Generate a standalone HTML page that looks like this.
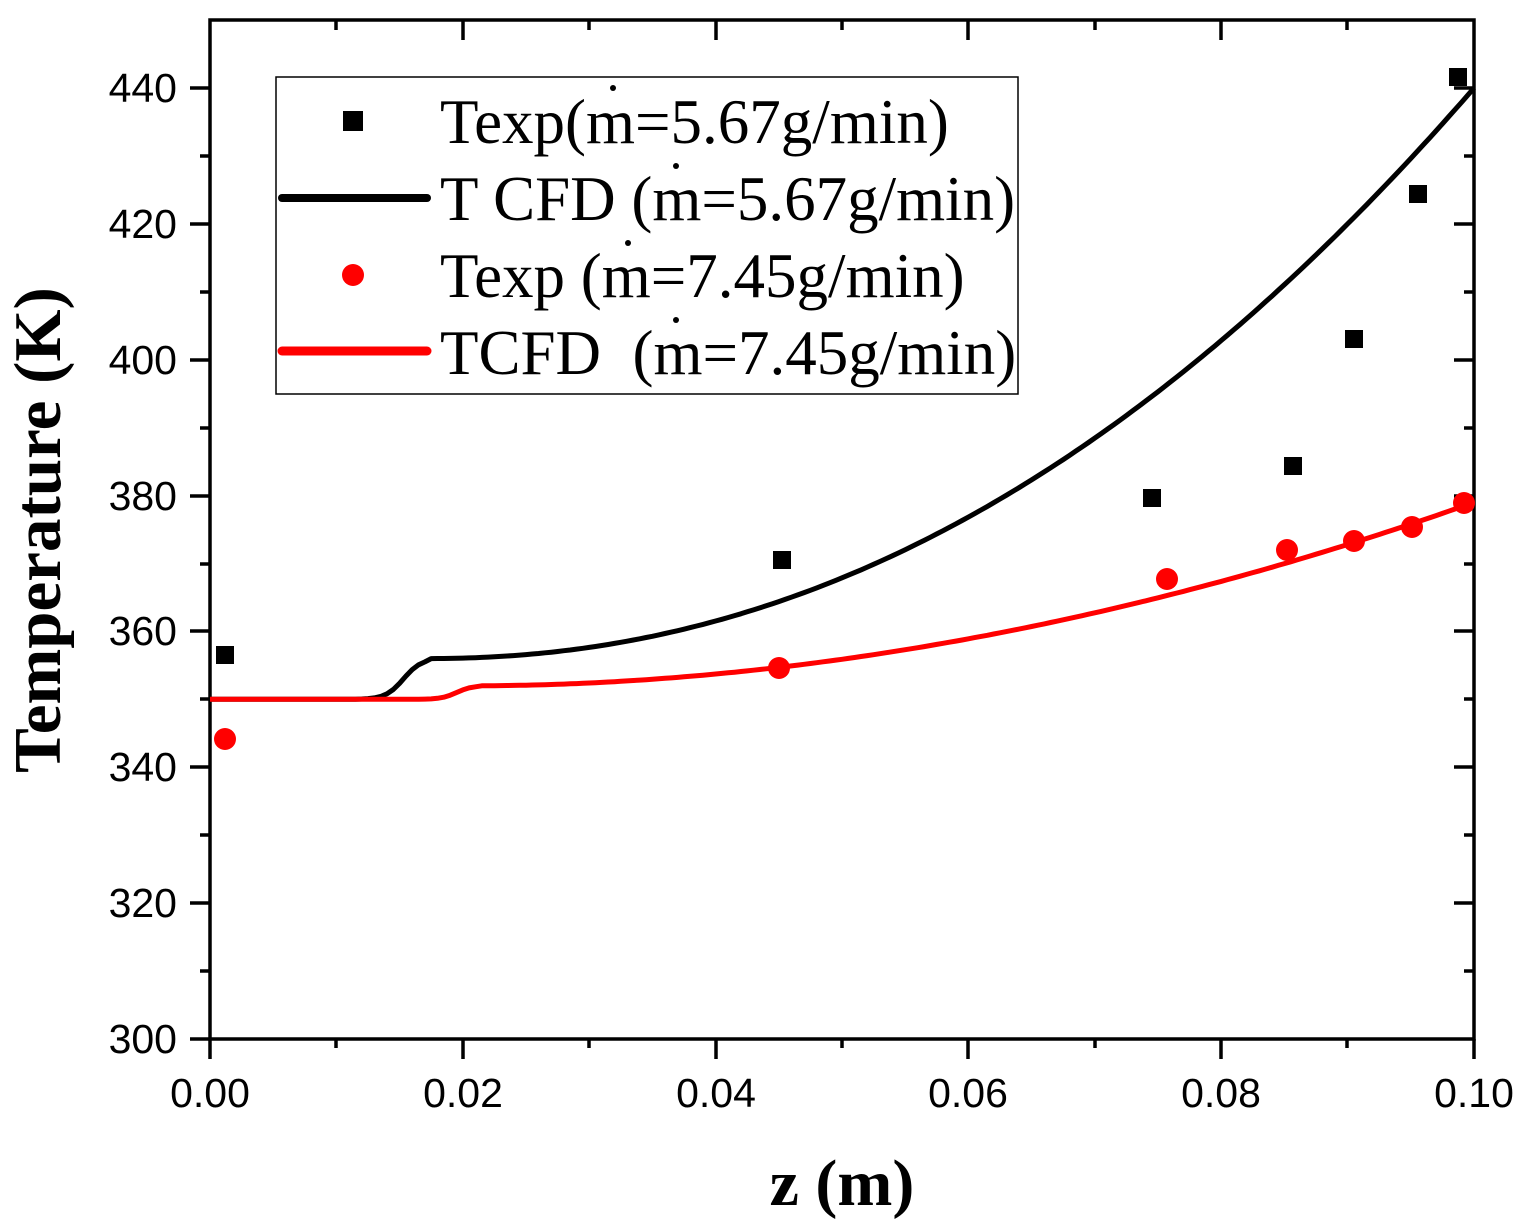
<!DOCTYPE html>
<html><head><style>body{margin:0;background:#fff}svg{display:block}</style></head><body>
<svg width="1526" height="1228" xmlns="http://www.w3.org/2000/svg">
<g stroke="#000" stroke-width="3.5" fill="none">
<rect x="210" y="20" width="1264" height="1019"/>
<path d="M190 88H210M190 224H210M190 360H210M190 496H210M190 631H210M190 767H210M190 903H210M190 1039H210"/>
<path d="M200 156H210M200 292H210M200 428H210M200 564H210M200 699H210M200 835H210M200 971H210"/>
<path d="M1454 88H1474M1454 224H1474M1454 360H1474M1454 496H1474M1454 631H1474M1454 767H1474M1454 903H1474"/>
<path d="M1464 156H1474M1464 292H1474M1464 428H1474M1464 564H1474M1464 699H1474M1464 835H1474M1464 971H1474"/>
<path d="M210 1039V1059M463 1039V1059M716 1039V1059M968 1039V1059M1221 1039V1059M1474 1039V1059"/>
<path d="M336 1039V1048M589 1039V1048M842 1039V1048M1095 1039V1048M1347 1039V1048"/>
<path d="M463 20V40M716 20V40M968 20V40M1221 20V40M336 20V30M589 20V30M842 20V30M1095 20V30M1347 20V30"/>
</g>
<g font-family="Liberation Sans, sans-serif" font-size="41" text-anchor="end">
<text x="177" y="102">440</text><text x="177" y="238">420</text><text x="177" y="374">400</text><text x="177" y="510">380</text><text x="177" y="645">360</text><text x="177" y="781">340</text><text x="177" y="917">320</text><text x="177" y="1053">300</text>
</g>
<g font-family="Liberation Sans, sans-serif" font-size="41" text-anchor="middle">
<text x="210" y="1107">0.00</text><text x="463" y="1107">0.02</text><text x="716" y="1107">0.04</text><text x="968" y="1107">0.06</text><text x="1221" y="1107">0.08</text><text x="1474" y="1107">0.10</text>
</g>
<text x="842" y="1205" font-family="Liberation Serif, serif" font-weight="bold" font-size="66" text-anchor="middle">z (m)</text>
<text transform="translate(60,530) rotate(-90)" font-family="Liberation Serif, serif" font-weight="bold" font-size="67" text-anchor="middle">Temperature (K)</text>
<polyline id="blk" fill="none" stroke="#000" stroke-width="5" stroke-linejoin="round" points=""/>
<polyline id="red" fill="none" stroke="#f00" stroke-width="5" stroke-linejoin="round" points=""/>
<g fill="#000">
<rect x="216" y="646" width="18" height="18"/><rect x="773" y="551" width="18" height="18"/><rect x="1143" y="489" width="18" height="18"/><rect x="1284" y="457" width="18" height="18"/><rect x="1345" y="330" width="18" height="18"/><rect x="1409" y="185" width="18" height="18"/><rect x="1449" y="68" width="18" height="18"/>
</g>
<g fill="#f00">
<circle cx="225" cy="739" r="11"/><circle cx="779" cy="668" r="11"/><circle cx="1167" cy="579" r="11"/><circle cx="1287" cy="550" r="11"/><circle cx="1354" cy="541" r="11"/><circle cx="1412" cy="527" r="11"/><circle cx="1464" cy="503" r="11"/>
</g>
<rect x="276" y="77" width="742" height="317" fill="none" stroke="#000" stroke-width="1.5"/>
<rect x="343" y="111" width="20" height="20" fill="#000"/>
<path d="M282 198H427" stroke="#000" stroke-width="8" stroke-linecap="round"/>
<circle cx="353" cy="275" r="11" fill="#f00"/>
<path d="M282 351H427" stroke="#f00" stroke-width="9" stroke-linecap="round"/>
<g font-family="Liberation Serif, serif" font-size="63">
<text x="440" y="143">Texp(m=5.67g/min)</text>
<text x="440" y="220">T CFD (m=5.67g/min)</text>
<text x="440" y="297">Texp (m=7.45g/min)</text>
<text x="440" y="374" xml:space="preserve">TCFD  (m=7.45g/min)</text>
</g>
<g fill="#000"><circle cx="613" cy="88" r="3"/><circle cx="676" cy="166" r="3"/><circle cx="628" cy="243" r="3"/><circle cx="676" cy="320" r="3"/></g>
<script>
function X(z){return 210+z*12640;}
function Y(t){return 1039-(t-300)*6.793;}
var pb=[],pr=[];
for(var i=0;i<=200;i++){var z=i*0.0005;
 var tb=350+6*(1/(1+Math.exp(-(z-0.0153)/0.0007)));
 if(z>0.017){tb=356+(84/Math.pow(0.083,2.12))*Math.pow(z-0.017,2.12);}
 else {tb=Math.min(tb,356);}
 var tr=350+2*(1/(1+Math.exp(-(z-0.0195)/0.0006)));
 if(z>0.021){tr=352+(27/Math.pow(0.079,1.93))*Math.pow(z-0.021,1.93);}
 else {tr=Math.min(tr,352);}
 pb.push(X(z).toFixed(1)+','+Y(tb).toFixed(1));pr.push(X(z).toFixed(1)+','+Y(tr).toFixed(1));}
document.getElementById('blk').setAttribute('points',pb.join(' '));
document.getElementById('red').setAttribute('points',pr.join(' '));
</script>
</svg>
</body></html>
